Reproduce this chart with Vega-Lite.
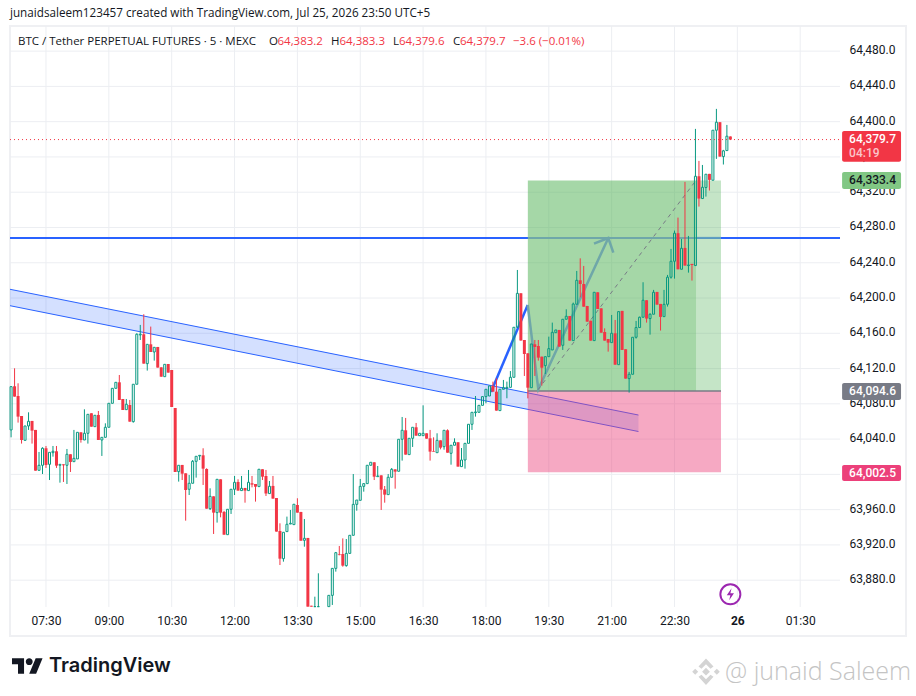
{
  "$schema": "https://vega.github.io/schema/vega-lite/v6.json",
  "description": "BTC / Tether perpetual futures 5 minute candles with channel, long position and arrow drawings",
  "width": 896,
  "height": 610,
  "autosize": "none",
  "padding": {"left": 10, "top": 26, "right": 10, "bottom": 60},
  "background": "#ffffff",
  "title": {"text": "junaidsaleem123457 created with TradingView.com, Jul 25, 2026 23:50 UTC+5", "anchor": "start", "frame": "group", "offset": 6, "font": "Open Sans", "fontSize": 11.7, "fontWeight": "normal", "color": "#131722"},
  "config": {"view": {"stroke": "#eff0f3", "strokeWidth": 2}, "legend": {"disable": true}},
  "datasets": {
    "candles": [
      {"t":"2026-07-25T06:40","o":64050.4,"h":64099.5,"l":64042.0,"c":64099.5},
      {"t":"2026-07-25T06:45","o":64099.9,"h":64120.3,"l":64088.2,"c":64088.2},
      {"t":"2026-07-25T06:50","o":64088.9,"h":64103.3,"l":64058.7,"c":64065.5},
      {"t":"2026-07-25T06:55","o":64066.2,"h":64066.2,"l":64034.9,"c":64039.0},
      {"t":"2026-07-25T07:00","o":64038.6,"h":64054.9,"l":64038.6,"c":64054.9},
      {"t":"2026-07-25T07:05","o":64054.9,"h":64070.4,"l":64050.4,"c":64060.2},
      {"t":"2026-07-25T07:10","o":64060.6,"h":64060.6,"l":64034.9,"c":64049.6},
      {"t":"2026-07-25T07:15","o":64050.4,"h":64050.4,"l":64004.2,"c":64004.2},
      {"t":"2026-07-25T07:20","o":64004.6,"h":64025.4,"l":64004.6,"c":64010.3},
      {"t":"2026-07-25T07:25","o":64010.3,"h":64030.7,"l":64000.4,"c":64029.6},
      {"t":"2026-07-25T07:30","o":64029.6,"h":64032.2,"l":64007.3,"c":64010.7},
      {"t":"2026-07-25T07:35","o":64011.4,"h":64025.0,"l":63993.6,"c":64025.0},
      {"t":"2026-07-25T07:40","o":64024.6,"h":64032.2,"l":64020.1,"c":64026.2},
      {"t":"2026-07-25T07:45","o":64026.2,"h":64032.2,"l":64007.3,"c":64009.9},
      {"t":"2026-07-25T07:50","o":64010.3,"h":64011.4,"l":63990.6,"c":64011.4},
      {"t":"2026-07-25T07:55","o":64011.4,"h":64011.4,"l":63991.4,"c":64010.3},
      {"t":"2026-07-25T08:00","o":64010.3,"h":64028.8,"l":63989.1,"c":64022.8},
      {"t":"2026-07-25T08:05","o":64022.8,"h":64022.8,"l":64002.7,"c":64014.1},
      {"t":"2026-07-25T08:10","o":64014.4,"h":64050.4,"l":64014.4,"c":64018.2},
      {"t":"2026-07-25T08:15","o":64017.5,"h":64047.7,"l":64017.5,"c":64047.7},
      {"t":"2026-07-25T08:20","o":64047.7,"h":64047.7,"l":64036.0,"c":64039.0},
      {"t":"2026-07-25T08:25","o":64039.0,"h":64073.8,"l":64039.0,"c":64046.6},
      {"t":"2026-07-25T08:30","o":64046.6,"h":64068.1,"l":64034.9,"c":64068.1},
      {"t":"2026-07-25T08:35","o":64069.3,"h":64069.3,"l":64054.1,"c":64054.1},
      {"t":"2026-07-25T08:40","o":64054.1,"h":64067.0,"l":64054.1,"c":64067.0},
      {"t":"2026-07-25T08:45","o":64067.4,"h":64071.9,"l":64039.0,"c":64039.0},
      {"t":"2026-07-25T08:50","o":64039.0,"h":64042.0,"l":64020.9,"c":64042.0},
      {"t":"2026-07-25T08:55","o":64042.0,"h":64057.9,"l":64042.0,"c":64053.4},
      {"t":"2026-07-25T09:00","o":64053.4,"h":64080.6,"l":64053.4,"c":64080.6},
      {"t":"2026-07-25T09:05","o":64080.6,"h":64097.6,"l":64080.6,"c":64097.6},
      {"t":"2026-07-25T09:10","o":64097.6,"h":64104.4,"l":64097.6,"c":64104.4},
      {"t":"2026-07-25T09:15","o":64104.4,"h":64112.7,"l":64084.4,"c":64084.4},
      {"t":"2026-07-25T09:20","o":64085.5,"h":64085.5,"l":64073.0,"c":64073.0},
      {"t":"2026-07-25T09:25","o":64073.4,"h":64085.5,"l":64073.4,"c":64079.5},
      {"t":"2026-07-25T09:30","o":64078.7,"h":64084.4,"l":64059.8,"c":64059.8},
      {"t":"2026-07-25T09:35","o":64059.8,"h":64102.2,"l":64058.7,"c":64102.2},
      {"t":"2026-07-25T09:40","o":64102.2,"h":64160.0,"l":64102.2,"c":64158.9},
      {"t":"2026-07-25T09:45","o":64158.1,"h":64169.5,"l":64152.4,"c":64158.9},
      {"t":"2026-07-25T09:50","o":64158.9,"h":64181.6,"l":64125.6,"c":64125.6},
      {"t":"2026-07-25T09:55","o":64125.6,"h":64147.5,"l":64117.7,"c":64147.5},
      {"t":"2026-07-25T10:00","o":64147.5,"h":64167.6,"l":64138.8,"c":64138.8},
      {"t":"2026-07-25T10:05","o":64138.8,"h":64144.1,"l":64129.0,"c":64144.1},
      {"t":"2026-07-25T10:10","o":64144.5,"h":64144.5,"l":64121.1,"c":64121.1},
      {"t":"2026-07-25T10:15","o":64121.4,"h":64121.4,"l":64110.8,"c":64110.8},
      {"t":"2026-07-25T10:20","o":64110.8,"h":64124.8,"l":64110.8,"c":64124.8},
      {"t":"2026-07-25T10:25","o":64125.2,"h":64125.2,"l":64115.4,"c":64115.4},
      {"t":"2026-07-25T10:30","o":64118.4,"h":64118.4,"l":64076.4,"c":64076.4},
      {"t":"2026-07-25T10:35","o":64075.3,"h":64075.3,"l":64002.7,"c":64002.7},
      {"t":"2026-07-25T10:40","o":64003.1,"h":64010.3,"l":63991.8,"c":64010.3},
      {"t":"2026-07-25T10:45","o":64010.7,"h":64010.7,"l":63993.6,"c":64000.8},
      {"t":"2026-07-25T10:50","o":64001.2,"h":64001.2,"l":63947.5,"c":63982.3},
      {"t":"2026-07-25T10:55","o":63983.1,"h":63999.3,"l":63976.6,"c":63989.9},
      {"t":"2026-07-25T11:00","o":63989.9,"h":64016.3,"l":63989.9,"c":64014.8},
      {"t":"2026-07-25T11:05","o":64014.8,"h":64020.5,"l":63996.3,"c":64020.5},
      {"t":"2026-07-25T11:10","o":64020.9,"h":64021.6,"l":64016.3,"c":64021.6},
      {"t":"2026-07-25T11:15","o":64021.6,"h":64029.6,"l":63988.0,"c":64006.5},
      {"t":"2026-07-25T11:20","o":64006.1,"h":64006.9,"l":63961.1,"c":63961.1},
      {"t":"2026-07-25T11:25","o":63961.1,"h":63984.2,"l":63959.6,"c":63975.1},
      {"t":"2026-07-25T11:30","o":63975.1,"h":63975.1,"l":63932.4,"c":63956.6},
      {"t":"2026-07-25T11:35","o":63956.6,"h":63994.4,"l":63945.3,"c":63994.4},
      {"t":"2026-07-25T11:40","o":63994.4,"h":63994.4,"l":63951.3,"c":63956.6},
      {"t":"2026-07-25T11:45","o":63957.4,"h":63958.5,"l":63931.6,"c":63931.6},
      {"t":"2026-07-25T11:50","o":63931.6,"h":63960.4,"l":63931.6,"c":63960.4},
      {"t":"2026-07-25T11:55","o":63960.4,"h":63983.1,"l":63955.1,"c":63983.1},
      {"t":"2026-07-25T12:00","o":63983.1,"h":63998.2,"l":63976.6,"c":63991.0},
      {"t":"2026-07-25T12:05","o":63991.4,"h":63994.4,"l":63981.6,"c":63981.6},
      {"t":"2026-07-25T12:10","o":63981.6,"h":63998.2,"l":63981.6,"c":63984.2},
      {"t":"2026-07-25T12:15","o":63984.6,"h":63984.6,"l":63967.9,"c":63981.6},
      {"t":"2026-07-25T12:20","o":63981.6,"h":64005.0,"l":63981.6,"c":63991.0},
      {"t":"2026-07-25T12:25","o":63989.9,"h":63998.2,"l":63985.3,"c":63988.4},
      {"t":"2026-07-25T12:30","o":63989.1,"h":63989.1,"l":63969.1,"c":63986.1},
      {"t":"2026-07-25T12:35","o":63986.1,"h":64005.8,"l":63986.1,"c":64005.8},
      {"t":"2026-07-25T12:40","o":64005.8,"h":64005.8,"l":63993.6,"c":63997.4},
      {"t":"2026-07-25T12:45","o":63998.2,"h":64005.0,"l":63975.5,"c":63978.2},
      {"t":"2026-07-25T12:50","o":63978.2,"h":63992.5,"l":63978.2,"c":63986.5},
      {"t":"2026-07-25T12:55","o":63986.9,"h":63998.2,"l":63972.5,"c":63972.5},
      {"t":"2026-07-25T13:00","o":63973.2,"h":63973.2,"l":63935.1,"c":63935.1},
      {"t":"2026-07-25T13:05","o":63935.8,"h":63944.5,"l":63897.2,"c":63904.4},
      {"t":"2026-07-25T13:10","o":63904.4,"h":63934.3,"l":63901.0,"c":63934.3},
      {"t":"2026-07-25T13:15","o":63935.1,"h":63952.1,"l":63935.1,"c":63943.4},
      {"t":"2026-07-25T13:20","o":63943.7,"h":63959.6,"l":63943.7,"c":63944.5},
      {"t":"2026-07-25T13:25","o":63943.0,"h":63966.1,"l":63943.0,"c":63966.1},
      {"t":"2026-07-25T13:30","o":63965.3,"h":63972.9,"l":63956.6,"c":63956.6},
      {"t":"2026-07-25T13:35","o":63957.4,"h":63957.4,"l":63924.8,"c":63924.8},
      {"t":"2026-07-25T13:40","o":63925.2,"h":63949.4,"l":63918.0,"c":63927.5},
      {"t":"2026-07-25T13:45","o":63927.9,"h":63927.9,"l":63850.0,"c":63850.0},
      {"t":"2026-07-25T13:50","o":63851.0,"h":63851.0,"l":63850.0,"c":63850.0},
      {"t":"2026-07-25T13:55","o":63850.0,"h":63861.3,"l":63850.0,"c":63850.0},
      {"t":"2026-07-25T14:00","o":63850.0,"h":63887.8,"l":63850.0,"c":63850.0},
      {"t":"2026-07-25T14:15","o":63850.0,"h":63862.8,"l":63850.0,"c":63862.8},
      {"t":"2026-07-25T14:20","o":63862.8,"h":63893.4,"l":63851.9,"c":63893.4},
      {"t":"2026-07-25T14:25","o":63893.4,"h":63912.0,"l":63889.7,"c":63911.2},
      {"t":"2026-07-25T14:30","o":63909.3,"h":63918.8,"l":63908.2,"c":63908.5},
      {"t":"2026-07-25T14:35","o":63909.7,"h":63927.4,"l":63895.3,"c":63896.5},
      {"t":"2026-07-25T14:40","o":63896.5,"h":63926.7,"l":63895.3,"c":63910.4},
      {"t":"2026-07-25T14:45","o":63910.4,"h":63930.9,"l":63910.4,"c":63930.9},
      {"t":"2026-07-25T14:50","o":63930.9,"h":64000.4,"l":63930.9,"c":63966.0},
      {"t":"2026-07-25T14:55","o":63966.0,"h":63970.9,"l":63958.8,"c":63970.9},
      {"t":"2026-07-25T15:00","o":63970.6,"h":63994.8,"l":63970.6,"c":63986.4},
      {"t":"2026-07-25T15:05","o":63986.4,"h":63989.5,"l":63980.4,"c":63989.5},
      {"t":"2026-07-25T15:10","o":63989.5,"h":64010.3,"l":63989.5,"c":64010.3},
      {"t":"2026-07-25T15:15","o":64010.3,"h":64013.7,"l":64010.3,"c":64013.7},
      {"t":"2026-07-25T15:20","o":64013.7,"h":64013.7,"l":63993.6,"c":63997.4},
      {"t":"2026-07-25T15:25","o":63997.4,"h":64009.5,"l":63997.4,"c":63998.2},
      {"t":"2026-07-25T15:30","o":63998.9,"h":63998.9,"l":63959.6,"c":63982.7},
      {"t":"2026-07-25T15:35","o":63983.0,"h":63986.8,"l":63967.9,"c":63977.0},
      {"t":"2026-07-25T15:40","o":63977.0,"h":64000.4,"l":63977.0,"c":63996.7},
      {"t":"2026-07-25T15:45","o":63996.7,"h":64007.2,"l":63996.7,"c":64005.7},
      {"t":"2026-07-25T15:50","o":64005.7,"h":64005.7,"l":63983.8,"c":64003.1},
      {"t":"2026-07-25T15:55","o":64003.5,"h":64039.8,"l":64003.5,"c":64039.8},
      {"t":"2026-07-25T16:00","o":64039.8,"h":64065.1,"l":64015.6,"c":64050.0},
      {"t":"2026-07-25T16:05","o":64050.0,"h":64064.0,"l":64022.4,"c":64022.4},
      {"t":"2026-07-25T16:10","o":64022.4,"h":64040.9,"l":64022.4,"c":64040.9},
      {"t":"2026-07-25T16:15","o":64040.9,"h":64053.4,"l":64031.1,"c":64053.4},
      {"t":"2026-07-25T16:20","o":64053.4,"h":64058.3,"l":64043.9,"c":64043.9},
      {"t":"2026-07-25T16:25","o":64043.9,"h":64046.6,"l":64043.9,"c":64046.6},
      {"t":"2026-07-25T16:30","o":64043.9,"h":64078.3,"l":64043.9,"c":64046.6},
      {"t":"2026-07-25T16:35","o":64046.6,"h":64046.6,"l":64040.5,"c":64040.5},
      {"t":"2026-07-25T16:40","o":64040.9,"h":64050.4,"l":64015.6,"c":64025.8},
      {"t":"2026-07-25T16:45","o":64026.5,"h":64042.0,"l":64025.8,"c":64025.8},
      {"t":"2026-07-25T16:50","o":64024.6,"h":64046.6,"l":64024.6,"c":64038.6},
      {"t":"2026-07-25T16:55","o":64038.6,"h":64038.6,"l":64028.4,"c":64030.3},
      {"t":"2026-07-25T17:00","o":64031.4,"h":64050.0,"l":64028.0,"c":64050.0},
      {"t":"2026-07-25T17:05","o":64050.0,"h":64051.1,"l":64024.6,"c":64024.6},
      {"t":"2026-07-25T17:10","o":64023.9,"h":64033.0,"l":64011.0,"c":64033.0},
      {"t":"2026-07-25T17:15","o":64033.0,"h":64040.9,"l":64033.0,"c":64036.4},
      {"t":"2026-07-25T17:20","o":64036.4,"h":64036.4,"l":64008.8,"c":64008.8},
      {"t":"2026-07-25T17:25","o":64008.8,"h":64029.9,"l":64008.8,"c":64016.3},
      {"t":"2026-07-25T17:30","o":64016.3,"h":64035.2,"l":64006.5,"c":64035.2},
      {"t":"2026-07-25T17:35","o":64035.2,"h":64056.8,"l":64035.2,"c":64056.8},
      {"t":"2026-07-25T17:40","o":64056.8,"h":64070.4,"l":64050.4,"c":64070.4},
      {"t":"2026-07-25T17:45","o":64070.0,"h":64088.9,"l":64065.5,"c":64070.8},
      {"t":"2026-07-25T17:50","o":64070.4,"h":64078.3,"l":64070.4,"c":64078.3},
      {"t":"2026-07-25T17:55","o":64078.3,"h":64088.2,"l":64078.3,"c":64088.2},
      {"t":"2026-07-25T18:00","o":64088.2,"h":64096.5,"l":64080.6,"c":64096.5},
      {"t":"2026-07-25T18:05","o":64088.9,"h":64100.3,"l":64088.9,"c":64100.3},
      {"t":"2026-07-25T18:10","o":64100.3,"h":64105.2,"l":64093.8,"c":64093.8},
      {"t":"2026-07-25T18:15","o":64093.8,"h":64108.9,"l":64072.3,"c":64072.3},
      {"t":"2026-07-25T18:20","o":64072.3,"h":64096.5,"l":64072.3,"c":64096.5},
      {"t":"2026-07-25T18:25","o":64096.5,"h":64107.1,"l":64096.5,"c":64098.4},
      {"t":"2026-07-25T18:30","o":64097.9,"h":64105.2,"l":64086.3,"c":64098.7},
      {"t":"2026-07-25T18:35","o":64098.7,"h":64117.2,"l":64098.7,"c":64110.1},
      {"t":"2026-07-25T18:40","o":64110.1,"h":64166.8,"l":64110.1,"c":64166.8},
      {"t":"2026-07-25T18:45","o":64166.8,"h":64231.8,"l":64166.8,"c":64205.3},
      {"t":"2026-07-25T18:50","o":64205.3,"h":64205.3,"l":64151.7,"c":64151.7},
      {"t":"2026-07-25T18:55","o":64152.4,"h":64152.4,"l":64111.6,"c":64136.5},
      {"t":"2026-07-25T19:00","o":64137.3,"h":64137.3,"l":64086.2,"c":64098.3},
      {"t":"2026-07-25T19:05","o":64098.3,"h":64147.9,"l":64098.3,"c":64147.9},
      {"t":"2026-07-25T19:10","o":64147.5,"h":64152.4,"l":64111.6,"c":64144.5},
      {"t":"2026-07-25T19:15","o":64145.6,"h":64152.4,"l":64129.0,"c":64132.4},
      {"t":"2026-07-25T19:20","o":64133.5,"h":64133.5,"l":64100.6,"c":64121.0},
      {"t":"2026-07-25T19:25","o":64123.3,"h":64133.5,"l":64113.8,"c":64133.5},
      {"t":"2026-07-25T19:30","o":64133.5,"h":64156.2,"l":64133.5,"c":64142.6},
      {"t":"2026-07-25T19:35","o":64141.1,"h":64172.1,"l":64141.1,"c":64161.1},
      {"t":"2026-07-25T19:40","o":64160.7,"h":64163.8,"l":64160.7,"c":64163.8},
      {"t":"2026-07-25T19:45","o":64163.8,"h":64163.8,"l":64144.9,"c":64144.9},
      {"t":"2026-07-25T19:50","o":64146.4,"h":64175.9,"l":64141.1,"c":64175.9},
      {"t":"2026-07-25T19:55","o":64175.9,"h":64187.2,"l":64175.9,"c":64179.3},
      {"t":"2026-07-25T20:00","o":64179.6,"h":64179.6,"l":64151.7,"c":64151.7},
      {"t":"2026-07-25T20:05","o":64151.7,"h":64194.8,"l":64151.7,"c":64193.2},
      {"t":"2026-07-25T20:10","o":64192.9,"h":64230.7,"l":64192.9,"c":64220.1},
      {"t":"2026-07-25T20:15","o":64220.1,"h":64245.0,"l":64200.8,"c":64215.9},
      {"t":"2026-07-25T20:20","o":64215.9,"h":64236.4,"l":64190.2,"c":64190.2},
      {"t":"2026-07-25T20:25","o":64191.0,"h":64191.0,"l":64173.2,"c":64173.2},
      {"t":"2026-07-25T20:30","o":64174.3,"h":64174.3,"l":64151.7,"c":64151.7},
      {"t":"2026-07-25T20:35","o":64151.7,"h":64206.5,"l":64151.7,"c":64206.5},
      {"t":"2026-07-25T20:40","o":64206.5,"h":64206.5,"l":64187.6,"c":64187.6},
      {"t":"2026-07-25T20:45","o":64188.3,"h":64188.3,"l":64160.7,"c":64160.7},
      {"t":"2026-07-25T20:50","o":64161.5,"h":64165.6,"l":64151.7,"c":64151.7},
      {"t":"2026-07-25T20:55","o":64153.5,"h":64153.5,"l":64139.2,"c":64149.4},
      {"t":"2026-07-25T21:00","o":64149.4,"h":64180.8,"l":64149.4,"c":64160.0},
      {"t":"2026-07-25T21:05","o":64160.0,"h":64175.1,"l":64124.4,"c":64124.4},
      {"t":"2026-07-25T21:10","o":64124.4,"h":64184.6,"l":64124.4,"c":64184.6},
      {"t":"2026-07-25T21:15","o":64185.4,"h":64185.4,"l":64141.1,"c":64141.1},
      {"t":"2026-07-25T21:20","o":64141.9,"h":64141.9,"l":64108.6,"c":64108.6},
      {"t":"2026-07-25T21:25","o":64108.6,"h":64116.2,"l":64092.7,"c":64113.5},
      {"t":"2026-07-25T21:30","o":64113.5,"h":64155.5,"l":64113.5,"c":64155.5},
      {"t":"2026-07-25T21:35","o":64155.5,"h":64174.0,"l":64154.0,"c":64166.5},
      {"t":"2026-07-25T21:40","o":64166.5,"h":64178.9,"l":64166.5,"c":64178.2},
      {"t":"2026-07-25T21:45","o":64178.2,"h":64217.9,"l":64178.2,"c":64197.5},
      {"t":"2026-07-25T21:50","o":64197.5,"h":64197.5,"l":64172.1,"c":64176.7},
      {"t":"2026-07-25T21:55","o":64176.7,"h":64182.7,"l":64158.5,"c":64181.6},
      {"t":"2026-07-25T22:00","o":64181.6,"h":64209.2,"l":64181.6,"c":64206.5},
      {"t":"2026-07-25T22:05","o":64206.9,"h":64206.9,"l":64192.5,"c":64192.5},
      {"t":"2026-07-25T22:10","o":64193.3,"h":64193.3,"l":64163.1,"c":64178.6},
      {"t":"2026-07-25T22:15","o":64178.9,"h":64209.2,"l":64178.9,"c":64192.9},
      {"t":"2026-07-25T22:20","o":64192.9,"h":64226.2,"l":64190.3,"c":64223.6},
      {"t":"2026-07-25T22:25","o":64223.6,"h":64255.7,"l":64222.0,"c":64241.7},
      {"t":"2026-07-25T22:30","o":64241.7,"h":64276.5,"l":64222.0,"c":64273.5},
      {"t":"2026-07-25T22:35","o":64273.5,"h":64291.2,"l":64232.6,"c":64232.6},
      {"t":"2026-07-25T22:40","o":64232.6,"h":64267.0,"l":64232.6,"c":64256.4},
      {"t":"2026-07-25T22:45","o":64256.8,"h":64331.7,"l":64236.8,"c":64236.8},
      {"t":"2026-07-25T22:50","o":64236.8,"h":64270.4,"l":64228.8,"c":64237.5},
      {"t":"2026-07-25T22:55","o":64238.7,"h":64238.7,"l":64219.8,"c":64237.5},
      {"t":"2026-07-25T23:00","o":64236.8,"h":64391.8,"l":64236.8,"c":64338.1},
      {"t":"2026-07-25T23:05","o":64338.1,"h":64355.5,"l":64303.7,"c":64312.8},
      {"t":"2026-07-25T23:10","o":64312.8,"h":64350.9,"l":64312.8,"c":64325.6},
      {"t":"2026-07-25T23:15","o":64325.3,"h":64340.4,"l":64315.0,"c":64340.4},
      {"t":"2026-07-25T23:20","o":64340.8,"h":64340.8,"l":64321.9,"c":64334.0},
      {"t":"2026-07-25T23:25","o":64333.6,"h":64390.3,"l":64333.6,"c":64390.3},
      {"t":"2026-07-25T23:30","o":64390.3,"h":64414.5,"l":64357.8,"c":64399.4},
      {"t":"2026-07-25T23:35","o":64399.4,"h":64399.4,"l":64360.4,"c":64360.4},
      {"t":"2026-07-25T23:40","o":64360.4,"h":64368.0,"l":64351.4,"c":64366.9},
      {"t":"2026-07-25T23:45","o":64367.2,"h":64396.3,"l":64367.2,"c":64383.5},
      {"t":"2026-07-25T23:50","o":64383.2,"h":64383.3,"l":64379.6,"c":64379.7}
    ],
    "priceTicks": [
      {"v":63880,"t":"2026-07-25T06:38:27","t2":"2026-07-26T02:27"},{"v":63920,"t":"2026-07-25T06:38:27","t2":"2026-07-26T02:27"},{"v":63960,"t":"2026-07-25T06:38:27","t2":"2026-07-26T02:27"},{"v":64000,"t":"2026-07-25T06:38:27","t2":"2026-07-26T02:27"},
      {"v":64040,"t":"2026-07-25T06:38:27","t2":"2026-07-26T02:27"},{"v":64080,"t":"2026-07-25T06:38:27","t2":"2026-07-26T02:27"},{"v":64120,"t":"2026-07-25T06:38:27","t2":"2026-07-26T02:27"},{"v":64160,"t":"2026-07-25T06:38:27","t2":"2026-07-26T02:27"},
      {"v":64200,"t":"2026-07-25T06:38:27","t2":"2026-07-26T02:27"},{"v":64240,"t":"2026-07-25T06:38:27","t2":"2026-07-26T02:27"},{"v":64280,"t":"2026-07-25T06:38:27","t2":"2026-07-26T02:27"},{"v":64320,"t":"2026-07-25T06:38:27","t2":"2026-07-26T02:27"},
      {"v":64360,"t":"2026-07-25T06:38:27","t2":"2026-07-26T02:27"},{"v":64400,"t":"2026-07-25T06:38:27","t2":"2026-07-26T02:27"},{"v":64440,"t":"2026-07-25T06:38:27","t2":"2026-07-26T02:27"},{"v":64480,"t":"2026-07-25T06:38:27","t2":"2026-07-26T02:27"}
    ],
    "timeTicks": [
      {"t":"2026-07-25T07:30","v":63849.6,"v2":64508.5},{"t":"2026-07-25T09:00","v":63849.6,"v2":64508.5},{"t":"2026-07-25T10:30","v":63849.6,"v2":64508.5},{"t":"2026-07-25T12:00","v":63849.6,"v2":64508.5},
      {"t":"2026-07-25T13:30","v":63849.6,"v2":64508.5},{"t":"2026-07-25T15:00","v":63849.6,"v2":64508.5},{"t":"2026-07-25T16:30","v":63849.6,"v2":64508.5},{"t":"2026-07-25T18:00","v":63849.6,"v2":64508.5},
      {"t":"2026-07-25T19:30","v":63849.6,"v2":64508.5},{"t":"2026-07-25T21:00","v":63849.6,"v2":64508.5},{"t":"2026-07-25T22:30","v":63849.6,"v2":64508.5},{"t":"2026-07-26T00:00","v":63849.6,"v2":64508.5},{"t":"2026-07-26T01:30","v":63849.6,"v2":64508.5}
    ],
    "channel": [
      {"t":"2026-07-25T06:38:27","v":64209.9,"v2":64191.3},
      {"t":"2026-07-25T21:38:24","v":64067.3,"v2":64048.6}
    ],
    "arrow": [
      {"part":"path","n":1,"t":"2026-07-25T18:07:12","v":64093.4},
      {"part":"path","n":2,"t":"2026-07-25T18:59:48","v":64192.1}
    ],
    "arrowInZone": [
      {"part":"path","n":1,"t":"2026-07-25T18:59:48","v":64192.1},
      {"part":"path","n":2,"t":"2026-07-25T19:15:00","v":64096.4},
      {"part":"path","n":3,"t":"2026-07-25T20:55:12","v":64268.1},
      {"part":"head","n":1,"t":"2026-07-25T20:34:42","v":64261.6},
      {"part":"head","n":2,"t":"2026-07-25T20:55:12","v":64268.1},
      {"part":"head","n":3,"t":"2026-07-25T21:02:24","v":64251.4}
    ],
    "tradeLine": [
      {"t":"2026-07-25T19:14:30","v":64096.0},
      {"t":"2026-07-25T23:00:48","v":64333.4}
    ],
    "priceTags": [
      {"t":"2026-07-26T02:30","t2":"2026-07-26T03:54:24","v":64389.5,"v2":64354.6,"role":"last"},
      {"t":"2026-07-26T02:30","t2":"2026-07-26T03:54:24","v":64342.9,"v2":64323.7,"role":"target"},
      {"t":"2026-07-26T02:30","t2":"2026-07-26T03:54:24","v":64103.6,"v2":64084.4,"role":"entry"},
      {"t":"2026-07-26T02:30","t2":"2026-07-26T03:54:24","v":64010.6,"v2":63992.5,"role":"stop"}
    ],
    "tagText": [
      {"t":"2026-07-26T02:40","v":64380.4,"label":"64,379.7","role":"light"},
      {"t":"2026-07-26T02:40","v":64365.0,"label":"04:19","role":"faded"},
      {"t":"2026-07-26T02:40","v":64333.3,"label":"64,333.4","role":"dark"},
      {"t":"2026-07-26T02:40","v":64094.0,"label":"64,094.6","role":"light"},
      {"t":"2026-07-26T02:40","v":64002.0,"label":"64,002.5","role":"light"}
    ],
    "header": [
      {"t":"2026-07-25T06:49:54","v":64490.4,"label":"BTC / Tether PERPETUAL FUTURES · 5 · MEXC","role":"dark"},
      {"t":"2026-07-25T12:49:18","v":64490.4,"label":"O","role":"dark"},
      {"t":"2026-07-25T13:01:30","v":64490.4,"label":"64,383.2","role":"down"},
      {"t":"2026-07-25T14:18:06","v":64490.4,"label":"H","role":"dark"},
      {"t":"2026-07-25T14:30:18","v":64490.4,"label":"64,383.3","role":"down"},
      {"t":"2026-07-25T15:46:54","v":64490.4,"label":"L","role":"dark"},
      {"t":"2026-07-25T15:55:30","v":64490.4,"label":"64,379.6","role":"down"},
      {"t":"2026-07-25T17:12:48","v":64490.4,"label":"C","role":"dark"},
      {"t":"2026-07-25T17:22:54","v":64490.4,"label":"64,379.7","role":"down"},
      {"t":"2026-07-25T18:38:42","v":64490.4,"label":"−3.6 (−0.01%)","role":"down"}
    ]
  },
  "encoding": {
    "x": {"field": "t", "type": "temporal",
      "scale": {"nice": false, "padding": 0, "domain": [{"year":2026,"month":7,"date":25,"hours":6,"minutes":38,"seconds":27},{"year":2026,"month":7,"date":26,"hours":4,"minutes":1,"seconds":30}]},
      "axis": {"title": null, "values": [
        {"year":2026,"month":7,"date":25,"hours":7,"minutes":30},{"year":2026,"month":7,"date":25,"hours":9,"minutes":0},{"year":2026,"month":7,"date":25,"hours":10,"minutes":30},{"year":2026,"month":7,"date":25,"hours":12,"minutes":0},{"year":2026,"month":7,"date":25,"hours":13,"minutes":30},{"year":2026,"month":7,"date":25,"hours":15,"minutes":0},{"year":2026,"month":7,"date":25,"hours":16,"minutes":30},{"year":2026,"month":7,"date":25,"hours":18,"minutes":0},{"year":2026,"month":7,"date":25,"hours":19,"minutes":30},{"year":2026,"month":7,"date":25,"hours":21,"minutes":0},{"year":2026,"month":7,"date":25,"hours":22,"minutes":30},{"year":2026,"month":7,"date":26,"hours":0,"minutes":0},{"year":2026,"month":7,"date":26,"hours":1,"minutes":30}
      ], "labelExpr": "hours(datum.value) == 0 ? '26' : timeFormat(datum.value, '%H:%M')", "domain": false, "ticks": false, "grid": false, "labelPadding": -21, "labelFont": "Roboto", "labelFontSize": 12, "labelColor": "#131722", "labelOverlap": false, "labelFlush": false, "labelFontWeight": {"condition": {"test": "hours(datum.value) == 0", "value": "bold"}, "value": "normal"}}
    },
    "y": {"field": "v", "type": "quantitative",
      "scale": {"domain": [63816.7, 64508.5], "nice": false, "zero": false},
      "axis": {"title": null, "orient": "right", "values": [63880,63920,63960,64000,64040,64080,64120,64160,64200,64240,64280,64320,64360,64400,64440,64480], "format": ",.1f", "domain": false, "ticks": false, "grid": false, "labelPadding": -57, "labelOffset": -1.5, "labelFont": "Roboto", "labelFontSize": 12, "labelColor": "#131722", "labelOverlap": false, "labelFlush": false}
    }
  },
  "layer": [
    {
      "data": {"name": "priceTicks"},
      "mark": {"type": "rule", "color": "#eceef2", "strokeWidth": 1},
      "encoding": {"x2": {"field": "t2"}}
    },
    {
      "data": {"name": "timeTicks"},
      "mark": {"type": "rule", "color": "#eceef2", "strokeWidth": 1},
      "encoding": {"y2": {"field": "v2"}}
    },
    {
      "data": {"name": "channel"},
      "mark": {"type": "area", "color": "#2962ff", "opacity": 0.2},
      "encoding": {"y2": {"field": "v2"}}
    },
    {
      "data": {"name": "channel"},
      "mark": {"type": "line", "color": "#2962ff", "strokeWidth": 1}
    },
    {
      "data": {"name": "channel"},
      "mark": {"type": "line", "color": "#2962ff", "strokeWidth": 1},
      "encoding": {"y": {"field": "v2", "type": "quantitative"}}
    },
    {
      "data": {"values": [{"v": 64268.2, "t": "2026-07-25T06:38:27", "t2": "2026-07-26T02:27"}]},
      "mark": {"type": "rule", "color": "#2962ff", "strokeWidth": 2},
      "encoding": {"x2": {"field": "t2"}}
    },
    {
      "data": {"name": "arrow"},
      "mark": {"type": "line", "color": "#2962ff", "strokeWidth": 2.5},
      "encoding": {"detail": {"field": "part"}, "order": {"field": "n"}}
    },
    {
      "data": {"values": [{"t": "2026-07-25T19:00:00", "t2": "2026-07-25T23:00:48", "v": 64333.4, "v2": 64094.6}]},
      "mark": {"type": "rect", "color": "#4caf50", "opacity": 0.5},
      "encoding": {"x2": {"field": "t2"}, "y2": {"field": "v2"}}
    },
    {
      "data": {"values": [{"t": "2026-07-25T23:00:48", "t2": "2026-07-25T23:36:36", "v": 64333.4, "v2": 64094.6}]},
      "mark": {"type": "rect", "color": "#4caf50", "opacity": 0.32},
      "encoding": {"x2": {"field": "t2"}, "y2": {"field": "v2"}}
    },
    {
      "data": {"values": [{"t": "2026-07-25T19:00:00", "t2": "2026-07-25T23:36:36", "v": 64094.6, "v2": 64002.5}]},
      "mark": {"type": "rect", "color": "#ec407a", "opacity": 0.45},
      "encoding": {"x2": {"field": "t2"}, "y2": {"field": "v2"}}
    },
    {
      "data": {"values": [{"v": 64094.6, "t": "2026-07-25T19:00:00", "t2": "2026-07-25T23:36:36"}]},
      "mark": {"type": "rule", "color": "#787b86", "strokeWidth": 1.5},
      "encoding": {"x2": {"field": "t2"}}
    },
    {
      "data": {"values": [{"v": 64268.2, "t": "2026-07-25T19:00:00", "t2": "2026-07-25T23:00:48"}]},
      "mark": {"type": "rule", "color": "#6fa7a9", "strokeWidth": 2},
      "encoding": {"x2": {"field": "t2"}}
    },
    {
      "data": {"values": [{"v": 64268.2, "t": "2026-07-25T23:00:48", "t2": "2026-07-25T23:36:36"}]},
      "mark": {"type": "rule", "color": "#5f9fc0", "strokeWidth": 2},
      "encoding": {"x2": {"field": "t2"}}
    },
    {
      "data": {"name": "arrowInZone"},
      "mark": {"type": "line", "color": "#6fa7a9", "strokeWidth": 2.5},
      "encoding": {"detail": {"field": "part"}, "order": {"field": "n"}}
    },
    {
      "data": {"name": "tradeLine"},
      "mark": {"type": "line", "color": "#787b86", "strokeWidth": 1, "strokeDash": [4, 4]}
    },
    {
      "data": {"name": "candles"},
      "transform": [{"filter": "datum.c < datum.o"}],
      "mark": {"type": "rule", "color": "#f23645", "strokeWidth": 1},
      "encoding": {"y": {"field": "h", "type": "quantitative"}, "y2": {"field": "l"}}
    },
    {
      "data": {"name": "candles"},
      "transform": [{"filter": "datum.c < datum.o"}],
      "mark": {"type": "bar", "orient": "vertical", "size": 3, "color": "#f23645"},
      "encoding": {"y": {"field": "o", "type": "quantitative"}, "y2": {"field": "c"}}
    },
    {
      "data": {"name": "candles"},
      "transform": [{"filter": "datum.c >= datum.o"}],
      "mark": {"type": "rule", "color": "#089981", "strokeWidth": 1},
      "encoding": {"y": {"field": "h", "type": "quantitative"}, "y2": {"field": "c"}}
    },
    {
      "data": {"name": "candles"},
      "transform": [{"filter": "datum.c >= datum.o"}],
      "mark": {"type": "rule", "color": "#089981", "strokeWidth": 1},
      "encoding": {"y": {"field": "o", "type": "quantitative"}, "y2": {"field": "l"}}
    },
    {
      "data": {"name": "candles"},
      "transform": [{"filter": "datum.c >= datum.o"}],
      "mark": {"type": "bar", "orient": "vertical", "size": 2, "filled": false, "stroke": "#089981", "strokeWidth": 1},
      "encoding": {"y": {"field": "o", "type": "quantitative"}, "y2": {"field": "c"}}
    },
    {
      "data": {"values": [{"v": 64379.7, "t": "2026-07-25T06:38:27", "t2": "2026-07-26T02:27"}]},
      "mark": {"type": "rule", "color": "#f23645", "strokeWidth": 1, "strokeDash": [1, 3]},
      "encoding": {"x2": {"field": "t2"}}
    },
    {
      "data": {"name": "priceTags"},
      "mark": {"type": "rect", "cornerRadius": 2},
      "encoding": {
        "x2": {"field": "t2"},
        "y2": {"field": "v2"},
        "color": {"field": "role", "type": "nominal", "scale": {"domain": ["last", "target", "entry", "stop", "light", "faded", "dark", "down"], "range": ["#f23645", "#81c784", "#787b86", "#ec407a", "#ffffff", "#fbc5ca", "#131722", "#f23645"]}}
      }
    },
    {
      "data": {"name": "tagText"},
      "mark": {"type": "text", "align": "left", "baseline": "middle", "font": "Roboto", "fontSize": 12, "fontWeight": 500},
      "encoding": {"text": {"field": "label"}, "color": {"field": "role", "type": "nominal"}}
    },
    {
      "data": {"name": "header"},
      "mark": {"type": "text", "align": "left", "baseline": "middle", "font": "Open Sans", "fontSize": 11.5},
      "encoding": {"text": {"field": "label"}, "color": {"field": "role", "type": "nominal"}}
    },
    {
      "data": {"values": [{"t": "2026-07-25T23:50:00", "v": 63864.0}]},
      "mark": {"type": "point", "shape": "circle", "size": 400, "filled": false, "color": "#9c27b0", "strokeWidth": 2, "opacity": 1}
    },
    {
      "data": {"values": [{"t": "2026-07-25T23:50:00", "v": 63864.0}]},
      "mark": {"type": "point", "shape": "M.1 -.5L-.3 .08H0L-.1 .5L.3 -.08H0Z", "size": 576, "filled": true, "color": "#9c27b0", "opacity": 1}
    },
    {
      "data": {"values": [{"t": "2026-07-25T07:03:30", "v": 63782.7}]},
      "mark": {"type": "point", "shape": "M-.111 .25H-.306V-.056H-.5V-.25H-.111ZM.278 .25H.056L.264 -.25H.486ZM-.055 -.139a.111 .111 0 1 0 .222 0a.111 .111 0 1 0 -.222 0Z", "size": 3844, "filled": true, "color": "#131722", "opacity": 1}
    },
    {
      "data": {"values": [{"t": "2026-07-25T07:34:18", "v": 63782.7, "label": "TradingView"}]},
      "mark": {"type": "text", "align": "left", "baseline": "middle", "font": "Inter", "fontSize": 20, "fontWeight": 600, "color": "#131722"},
      "encoding": {"text": {"field": "label"}}
    },
    {
      "data": {"values": [{"t": "2026-07-25T23:15:06", "v": 63776.2}]},
      "mark": {"type": "point", "shape": "M0 -.13L.13 0L0 .13L-.13 0ZM-.36 -.1L-.26 0L-.36 .1L-.46 0ZM.36 -.1L.46 0L.36 .1L.26 0ZM-.25 -.17L0 -.44L.25 -.17L.15 -.1L0 -.25L-.15 -.1ZM-.25 .17L0 .44L.25 .17L.15 .1L0 .25L-.15 .1Z", "size": 3600, "filled": true, "color": "#d4d4d4", "opacity": 1}
    },
    {
      "data": {"values": [{"t": "2026-07-25T23:42:18", "v": 63776.2, "label": "@ junaid Saleem"}]},
      "mark": {"type": "text", "align": "left", "baseline": "middle", "font": "Open Sans", "fontSize": 25, "fontWeight": 300, "color": "#c4c4c4"},
      "encoding": {"text": {"field": "label"}}
    }
  ]
}
